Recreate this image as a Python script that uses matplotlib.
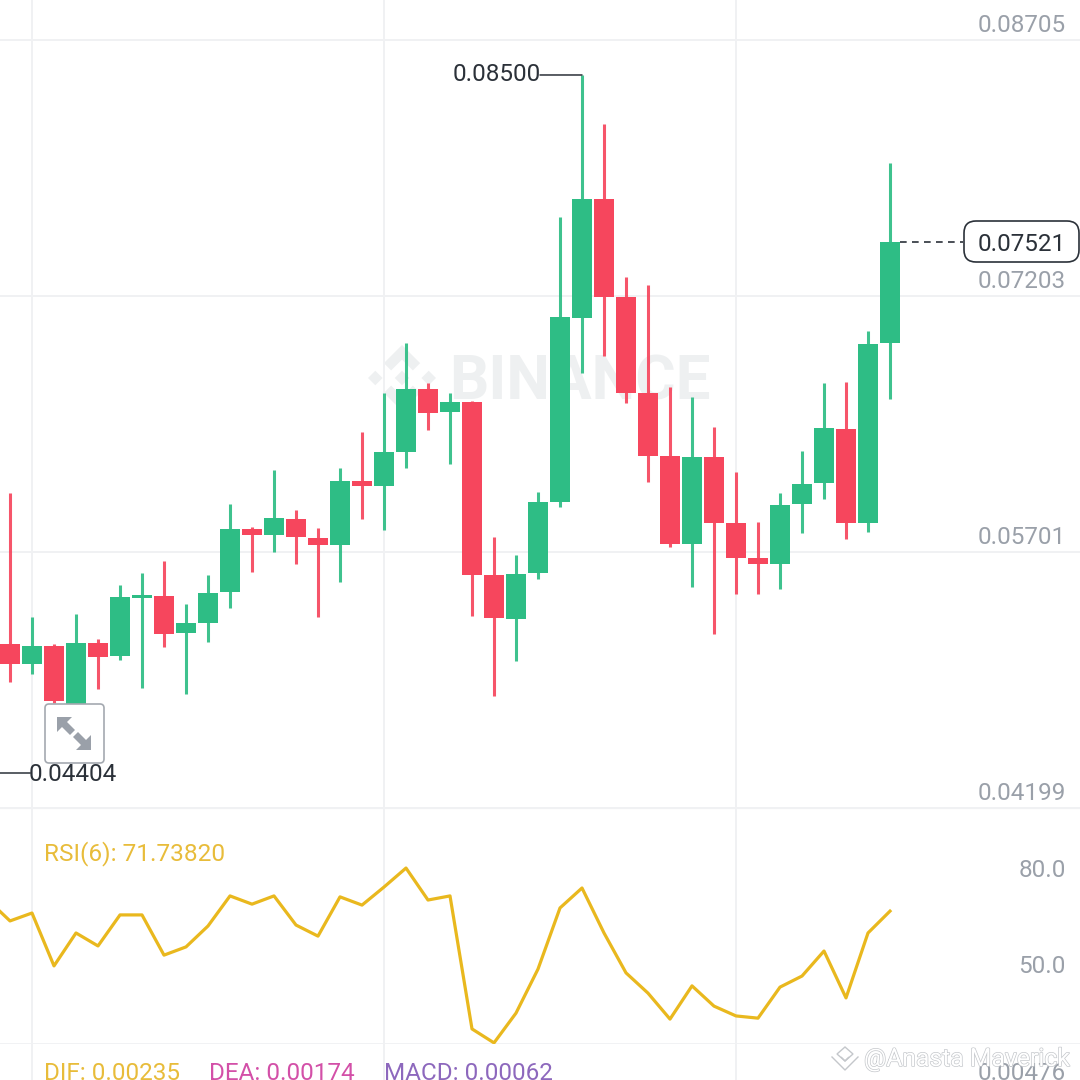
#!/usr/bin/env python3
"""Candlestick chart with RSI panel, Binance app style. Output: out.png"""

import matplotlib
matplotlib.use('Agg')
import matplotlib.pyplot as plt
import matplotlib.patheffects as pe
from matplotlib.patches import FancyBboxPatch, Polygon

plt.rcParams['font.family'] = ['Roboto', 'DejaVu Sans']

# Candle values, left to right
opens = [0.05161, 0.05044, 0.05149, 0.04809, 0.05167, 0.05091, 0.05431, 0.05443, 0.05226, 0.05284,
         0.05466, 0.05836, 0.05801, 0.05895, 0.05783, 0.05742, 0.06118, 0.06088, 0.06288, 0.06657,
         0.06522, 0.06581, 0.05566, 0.05308, 0.05578, 0.05994, 0.07074, 0.07772, 0.07197, 0.06634,
         0.06264, 0.05748, 0.06258, 0.05871, 0.05666, 0.05631, 0.05983, 0.06106, 0.06423, 0.05871,
         0.06927]
closes = [0.05044, 0.05149, 0.04827, 0.05167, 0.05085, 0.05437, 0.05449, 0.05220, 0.05284, 0.05460,
          0.05836, 0.05801, 0.05900, 0.05789, 0.05742, 0.06118, 0.06088, 0.06288, 0.06657, 0.06517,
          0.06581, 0.05566, 0.05314, 0.05572, 0.05994, 0.07080, 0.07772, 0.07197, 0.06634, 0.06264,
          0.05748, 0.06258, 0.05871, 0.05666, 0.05631, 0.05977, 0.06100, 0.06429, 0.05871, 0.06921,
          0.07521]
highs = [0.06047, 0.05320, 0.05161, 0.05337, 0.05191, 0.05507, 0.05578, 0.05648, 0.05396, 0.05566,
         0.05983, 0.05848, 0.06182, 0.05947, 0.05842, 0.06194, 0.06405, 0.06634, 0.06927, 0.06693,
         0.06634, 0.06587, 0.05789, 0.05683, 0.06053, 0.07666, 0.08500, 0.08212, 0.07314, 0.07267,
         0.06669, 0.06610, 0.06434, 0.06170, 0.05877, 0.06047, 0.06294, 0.06693, 0.06698, 0.06998,
         0.07983]
lows = [0.04938, 0.04985, 0.04815, 0.04809, 0.04897, 0.05067, 0.04903, 0.05144, 0.04868, 0.05173,
        0.05372, 0.05584, 0.05701, 0.05631, 0.05320, 0.05525, 0.05895, 0.05830, 0.06194, 0.06417,
        0.06217, 0.05326, 0.04856, 0.05061, 0.05543, 0.05965, 0.06751, 0.06851, 0.06575, 0.06112,
        0.05730, 0.05496, 0.05220, 0.05455, 0.05455, 0.05484, 0.05813, 0.06012, 0.05777, 0.05818,
        0.06599]

# RSI(6), first value belongs to the candle just off the left edge
rsi_x = list(range(-1, 41))
rsi_values = [70.2, 63.6, 66.1, 49.4, 59.8, 55.7, 65.5, 65.5, 52.8, 55.4, 62.0, 71.5, 68.9, 71.5,
              62.3, 58.8, 71.2, 68.6, 74.3, 80.3, 70.2, 71.5, 29.5, 25.1, 34.5, 48.4, 67.7, 74.0,
              59.8, 47.2, 40.8, 32.6, 43.1, 36.7, 33.6, 32.9, 42.7, 46.2, 54.1, 39.3, 59.8, 66.7]

price_ticks = [0.08705, 0.07203, 0.05701, 0.04199]
price_labels = ['0.08705', '0.07203', '0.05701', '0.04199']
rsi_ticks = [80.0, 50.0]
rsi_labels = ['80.0', '50.0']
time_grid = [1, 17, 33]

last_price = 0.07521
high_mark = 0.08500
high_index = 26
low_mark = 0.04404

GREEN = '#2ebd85'
RED = '#f6465d'
GRID = '#f0f1f3'
LABEL = '#9aa0a9'
DARK = '#2b3139'
X_RANGE = (-0.4545, 48.636)

fig = plt.figure(figsize=(10.8, 10.8), dpi=100, facecolor='white')

# pixel overlay for the things that are not data (watermarks, button)
bg = fig.add_axes([0, 0, 1, 1], zorder=0)
bg.set_xlim(0, 1080)
bg.set_ylim(1080, 0)
bg.axis('off')

ax = fig.add_axes([0, 1 - 808 / 1080, 1, 808 / 1080], zorder=1)
rsi_ax = fig.add_axes([0, 36 / 1080, 1, 236 / 1080], zorder=1)
macd_ax = fig.add_axes([0, 0, 1, 36 / 1080], zorder=1)
top = fig.add_axes([0, 0, 1, 1], zorder=3)
top.set_xlim(0, 1080)
top.set_ylim(1080, 0)
top.axis('off')

for a in (ax, rsi_ax, macd_ax):
    a.set_xlim(*X_RANGE)
    a.patch.set_alpha(0)
    for s in a.spines.values():
        s.set_visible(False)
    a.tick_params(left=False, bottom=False, labelleft=False, labelbottom=False)
    a.set_xticks(time_grid)
    a.grid(axis='x', color=GRID, linewidth=1.4, zorder=0)

ax.set_ylim(0.04199, 0.08940)
rsi_ax.set_ylim(24.74, 99.26)
macd_ax.set_ylim(0, 1)

# Price panel
ax.set_yticks(price_ticks)
ax.grid(axis='y', color=GRID, linewidth=1.4, zorder=0)
for i in range(len(opens)):
    color = GREEN if closes[i] >= opens[i] else RED
    # wicks look a little paler than the bodies in the app
    ax.vlines(i, lows[i], highs[i], color=color, linewidth=2.2, alpha=0.92, zorder=2)
    ax.bar(i, abs(closes[i] - opens[i]), bottom=min(opens[i], closes[i]), width=0.9,
           color=color, linewidth=0, zorder=3)

for val, lab in zip(price_ticks, price_labels):
    ax.annotate(lab, xy=(1, val), xycoords=ax.get_yaxis_transform(), xytext=(-14, 8.5),
                textcoords='offset pixels', ha='right', va='baseline', fontsize=17.5, color=LABEL,
                annotation_clip=False)

# high / low markers
ax.annotate('0.08500', xy=(high_index, high_mark), xytext=(-41, -6), textcoords='offset pixels',
            ha='right', va='baseline', fontsize=17.5, color=DARK)
ax.annotate('', xy=(high_index, high_mark), xytext=(-42, 0), textcoords='offset pixels',
            arrowprops=dict(arrowstyle='-', color=DARK, lw=1.1, shrinkA=0, shrinkB=0))
ax.plot([X_RANGE[0], 0.91], [low_mark, low_mark], color=DARK, linewidth=1.1, zorder=4)
ax.annotate('0.04404', xy=(0.91, low_mark), xytext=(-1, -8), textcoords='offset pixels',
            ha='left', va='baseline', fontsize=17.5, color=DARK)

# last price line and tag
ax.plot([40.45, 43.3], [last_price, last_price], color=DARK, linewidth=1.2,
        linestyle=(0, (4, 3.2)), zorder=4)
top.add_patch(FancyBboxPatch((976, 233), 91, 17, boxstyle='round,pad=12', facecolor='white',
                             edgecolor=DARK, linewidth=1.2))
top.text(1066, 251, '0.07521', ha='right', va='baseline', fontsize=17.5, color=DARK)

# RSI panel
rsi_ax.axhline(99.26, color=GRID, linewidth=1.6, zorder=1)
rsi_ax.axhline(24.74, color=GRID, linewidth=2.0, zorder=1)
rsi_ax.plot(rsi_x, rsi_values, color='#e9b81e', linewidth=2.3, zorder=3, solid_joinstyle='round')
for val, lab in zip(rsi_ticks, rsi_labels):
    rsi_ax.annotate(lab, xy=(1, val), xycoords=rsi_ax.get_yaxis_transform(), xytext=(-14, -8.5),
                    textcoords='offset pixels', ha='right', va='baseline', fontsize=17.5, color=LABEL)

top.text(44, 860, 'RSI(6): 71.73820', ha='left', va='baseline', fontsize=17.6, color='#e8bc3a')
top.text(44, 1080, 'DIF: 0.00235', ha='left', va='baseline', fontsize=17.5, color='#e8bc3a')
top.text(209, 1080, 'DEA: 0.00174', ha='left', va='baseline', fontsize=17.5, color='#d350a8')
top.text(384, 1080, 'MACD: 0.00062', ha='left', va='baseline', fontsize=17.5, color='#8d68bd')
top.text(1066, 1080, '0.00476', ha='right', va='baseline', fontsize=17.5, color=LABEL)

# BINANCE watermark behind the candles
WM = '#eef0f1'
bg.text(449, 399, 'BINANCE', ha='left', va='baseline', fontsize=44.5, fontweight='bold', color=WM)
cx, cy, s = 402, 378, 33
for sign in (-1, 1):
    bg.add_patch(Polygon([(cx, cy + sign * s), (cx + .55 * s, cy + sign * .45 * s),
                          (cx + .33 * s, cy + sign * .23 * s), (cx, cy + sign * .56 * s),
                          (cx - .33 * s, cy + sign * .23 * s), (cx - .55 * s, cy + sign * .45 * s)],
                         facecolor=WM, edgecolor='none'))
for dx in (-.81, 0, .81):
    px = cx + dx * s
    d = .22 * s
    bg.add_patch(Polygon([(px, cy - d), (px + d, cy), (px, cy + d), (px - d, cy)],
                         facecolor=WM, edgecolor='none'))

# expand button
BTN = '#a4a9b0'
top.add_patch(FancyBboxPatch((49, 708), 51, 51, boxstyle='round,pad=4', facecolor='white',
                             edgecolor=BTN, linewidth=1.2))
top.add_patch(Polygon([(57, 717), (72, 717), (67, 722), (75, 730), (70, 735), (62, 727), (57, 732)],
                      facecolor=LABEL, edgecolor='none'))
top.add_patch(Polygon([(91, 750), (76, 750), (81, 745), (73, 737), (78, 732), (86, 740), (91, 735)],
                      facecolor=LABEL, edgecolor='none'))

# author watermark, bottom right
top.text(864, 1066, '@Anasta Maverick', ha='left', va='baseline', fontsize=17.8, color='white',
         path_effects=[pe.withStroke(linewidth=1.0, foreground='#c4c7cb')])
for pts in ([(845, 1047), (853, 1054), (845, 1061), (837, 1054)],
            [(841, 1057), (845, 1061), (849, 1057)]):
    top.add_patch(Polygon(pts, closed=len(pts) == 4, fill=False, edgecolor='#c4c7cb', linewidth=1.0))
top.plot([832, 845, 858], [1057, 1070, 1057], color='#c4c7cb', linewidth=1.0)
top.set_xlim(0, 1080)
top.set_ylim(1080, 0)

fig.savefig('out.png', dpi=100, facecolor='white')
plt.close(fig)
